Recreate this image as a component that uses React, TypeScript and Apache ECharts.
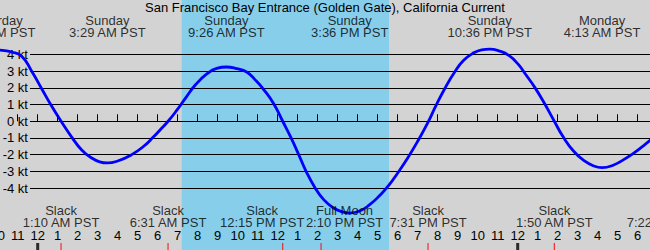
import { useEffect, useRef } from "react";
import * as echarts from "echarts";

const TITLE = "San Francisco Bay Entrance (Golden Gate), California Current";
const FONT = "Liberation Sans";

// hours from Sunday 00:00 (PST) and current speed in knots
const curveHours = [
  -2.05, -1.885, -1.3, -0.8, -0.3, 0.2, 0.65, 1.17, 1.7, 2.2, 2.7, 3.1, 3.48,
  4.0, 4.7, 5.3, 5.78, 6.15, 6.52, 6.95, 7.4, 7.9, 8.47, 8.95, 9.43, 9.95,
  10.45, 10.9, 11.3, 11.8, 12.25, 12.67, 13.05, 13.42, 13.85, 14.3, 14.8, 15.2,
  15.6, 16.1, 16.6, 17.1, 17.55, 18.0, 18.5, 19.0, 19.5, 19.9, 20.35, 20.85,
  21.3, 21.8, 22.2, 22.6, 23.1, 23.55, 24.0, 24.4, 24.87, 25.37, 25.83, 26.28,
  26.8, 27.3, 27.8, 28.22, 28.8, 29.3, 29.75, 30.2, 30.65, 31.1,
];
const curveKnots = [
  4.28, 4.26, 4.15, 3.9, 3.0, 1.95, 1.0, 0, -0.95, -1.72, -2.2, -2.43, -2.5,
  -2.38, -2.0, -1.5, -0.95, -0.48, 0, 0.65, 1.4, 2.2, 2.85, 3.17, 3.25, 3.15,
  2.95, 2.45, 1.9, 1.05, 0, -1.0, -2.0, -3.0, -3.95, -4.7, -5.2, -5.42, -5.5,
  -5.38, -5.0, -4.45, -3.85, -3.1, -2.2, -1.2, -0.1, 0.9, 1.95, 2.95, 3.65, 4.1,
  4.28, 4.32, 4.2, 3.95, 3.45, 2.8, 2.0, 1.0, 0, -0.95, -1.8, -2.35, -2.68,
  -2.78, -2.62, -2.3, -1.95, -1.55, -1.12, -0.65,
];

// max flood / max ebb annotations (top)
const extremeHours = [-2.05, 3.483, 9.433, 15.6, 22.6, 28.217];
const extremeDays = ["Saturday", "Sunday", "Sunday", "Sunday", "Sunday", "Monday"];
const extremeTimes = [
  "9:57 PM PST",
  "3:29 AM PST",
  "9:26 AM PST",
  "3:36 PM PST",
  "10:36 PM PST",
  "4:13 AM PST",
];

// slack / moon events (bottom)
const eventHours = [1.167, 6.517, 12.25, 14.167, 19.517, 25.833, 31.367];
const eventNames = ["Slack", "Slack", "Slack", "Full Moon", "Slack", "Slack", "Slack"];
const eventTimes = [
  "1:10 AM PST",
  "6:31 AM PST",
  "12:15 PM PST",
  "2:10 PM PST",
  "7:31 PM PST",
  "1:50 AM PST",
  "7:22 AM PST",
];
// horizontal nudges (px) that keep neighbouring event labels apart
const eventLabelShift = [0, 0, -20.5, 23.5, 0, 0, 0];

const midnightHours = [0, 24];
const daylight = [7.2, 17.565]; // sunrise, sunset

const X_MIN = -2;
const X_MAX = 31;
const KT_MIN = -4;
const KT_MAX = 4;

export default function App() {
  const ref = useRef<HTMLDivElement>(null);

  useEffect(() => {
    if (!ref.current) return;
    document.body.style.margin = "0";
    const chart = echarts.init(ref.current, undefined, { renderer: "svg" });

    const pxPerHour = 20;
    const midnightX = 37.7;
    const gridLeft = midnightX + X_MIN * pxPerHour;
    const gridRight = 650 - (midnightX + X_MAX * pxPerHour);
    const ktTop = 54.5;
    const ktHeight = 133.5;
    const pxPerKt = ktHeight / (KT_MAX - KT_MIN);
    const fullMax = KT_MAX + ktTop / pxPerKt;
    const fullMin = KT_MIN - (250 - ktTop - ktHeight) / pxPerKt;

    const TOP_ROW = 26;
    const BOTTOM_ROW = 216.5;
    const TICK_ROW = 246.5;

    const textBase = {
      color: "#000",
      fontFamily: FONT,
      fontSize: 13,
    };

    chart.setOption({
      animation: false,
      backgroundColor: "#d3d3d3",
      title: {
        text: TITLE,
        left: "center",
        top: 0,
        padding: 0,
        textStyle: { ...textBase, fontWeight: "normal", lineHeight: 14 },
      },
      grid: [
        {
          left: gridLeft,
          right: gridRight,
          top: 0,
          bottom: 0,
          containLabel: false,
          outerBoundsMode: "none",
        },
        {
          left: 30,
          right: 0,
          top: ktTop,
          height: ktHeight,
          containLabel: false,
          outerBoundsMode: "none",
        },
      ],
      xAxis: [
        {
          gridIndex: 0,
          type: "value",
          min: X_MIN,
          max: X_MAX,
          interval: 1,
          position: "bottom",
          z: 6,
          axisLine: { show: false },
          axisTick: { show: true, inside: true, length: 7, lineStyle: { color: "#000", width: 1 } },
          axisLabel: {
            ...textBase,
            inside: true,
            margin: 8,
            showMinLabel: true,
            showMaxLabel: true,
            formatter: (v: number) => {
              const h = ((Math.round(v) % 12) + 12) % 12;
              return String(h === 0 ? 12 : h);
            },
          },
          splitLine: { show: false },
        },
        { gridIndex: 1, type: "value", min: 0, max: 1, show: false },
      ],
      yAxis: [
        { gridIndex: 0, type: "value", min: fullMin, max: fullMax, show: false },
        { gridIndex: 0, type: "value", min: 0, max: 250, inverse: true, show: false },
        {
          gridIndex: 1,
          type: "value",
          min: KT_MIN,
          max: KT_MAX,
          interval: 1,
          z: 2,
          axisLine: { show: false },
          axisTick: { show: false },
          axisLabel: { ...textBase, margin: 2, formatter: (v: number) => `${v} kt` },
          splitLine: { show: true, lineStyle: { color: "#000", width: 1 } },
        },
      ],
      series: [
        {
          name: "daylight",
          type: "line",
          xAxisIndex: 0,
          yAxisIndex: 1,
          data: [[daylight[0], 0]],
          showSymbol: false,
          lineStyle: { opacity: 0 },
          silent: true,
          z: 1,
          markArea: {
            silent: true,
            itemStyle: { color: "#87ceeb" },
            data: [[{ xAxis: daylight[0] }, { xAxis: daylight[1] }]],
          },
        },
        {
          name: "current",
          type: "line",
          xAxisIndex: 0,
          yAxisIndex: 0,
          data: curveHours.map((h, i) => [h, curveKnots[i]]),
          smooth: 0.5,
          showSymbol: false,
          lineStyle: { color: "#0000ff", width: 2.8 },
          z: 3,
        },
        {
          name: "extremes",
          type: "scatter",
          xAxisIndex: 0,
          yAxisIndex: 1,
          clip: false,
          symbolSize: 1,
          itemStyle: { color: "rgba(0,0,0,0)" },
          data: extremeHours.map((h) => [h, TOP_ROW]),
          z: 5,
          label: {
            show: true,
            position: "inside",
            ...textBase,
            lineHeight: 12,
            formatter: (p: any) => `${extremeDays[p.dataIndex]}\n${extremeTimes[p.dataIndex]}`,
          },
        },
        {
          name: "events",
          type: "scatter",
          xAxisIndex: 0,
          yAxisIndex: 1,
          clip: false,
          symbolSize: 1,
          itemStyle: { color: "rgba(0,0,0,0)" },
          data: eventHours.map((h, i) => ({
            value: [h, BOTTOM_ROW],
            label: { offset: [eventLabelShift[i], 0] },
          })),
          z: 5,
          label: {
            show: true,
            position: "inside",
            ...textBase,
            lineHeight: 12,
            formatter: (p: any) => `${eventNames[p.dataIndex]}\n${eventTimes[p.dataIndex]}`,
          },
        },
        {
          name: "eventTicks",
          type: "scatter",
          xAxisIndex: 0,
          yAxisIndex: 1,
          clip: false,
          symbol: "rect",
          symbolSize: [1.2, 7],
          itemStyle: { color: "#ff0000" },
          data: eventHours.map((h) => [h, TICK_ROW]),
          z: 6,
        },
        {
          name: "midnightTicks",
          type: "scatter",
          xAxisIndex: 0,
          yAxisIndex: 1,
          clip: false,
          symbol: "rect",
          symbolSize: [3, 7],
          itemStyle: { color: "#000" },
          data: midnightHours.map((h) => [h, TICK_ROW]),
          z: 6,
        },
      ],
    });

    return () => chart.dispose();
  }, []);

  return (
    <div
      ref={ref}
      style={{ position: "absolute", left: 0, top: 0, width: 650, height: 250 }}
    />
  );
}
